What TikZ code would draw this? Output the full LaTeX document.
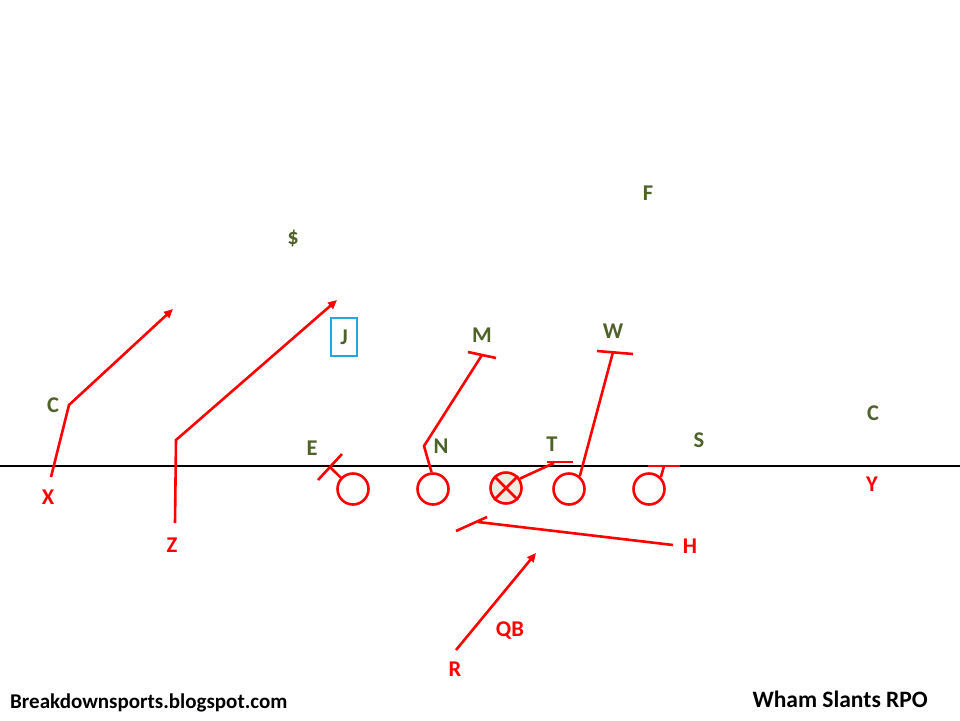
\documentclass[tikz,border=0pt]{standalone}
\usepackage{fontspec}
\setmainfont{Carlito}
\usetikzlibrary{arrows.meta}
\definecolor{olivegrn}{HTML}{4F6228}
\definecolor{rred}{HTML}{FF0000}
\definecolor{cyanbox}{HTML}{1FA7DE}
\definecolor{ctrfill}{HTML}{EEECE1}
\begin{document}
\begin{tikzpicture}[x=1pt,y=-1pt,
  deflbl/.style={text=olivegrn,font=\fontsize{22.5}{24}\selectfont\bfseries,inner sep=0pt},
  offlbl/.style={text=rred,font=\fontsize{22.5}{24}\selectfont\bfseries,inner sep=0pt},
  lineman/.style={circle,draw=rred,line width=2.6pt,minimum size=31pt,inner sep=0pt},
  route/.style={draw=rred,line width=2.6pt},
  arrowroute/.style={route,-{Triangle[length=9pt,width=8pt]}},
  footerL/.style={text=black,font=\fontsize{21}{23}\selectfont\bfseries,inner sep=0pt},
  footerR/.style={text=black,font=\fontsize{23.5}{25}\selectfont\bfseries,inner sep=0pt}]
\useasboundingbox (0,0) rectangle (960,720);
% line of scrimmage
\coordinate (losL) at (0,466);
\coordinate (losR) at (960,466);
\draw[line width=2.8pt] (losL) -- (losR);
% offensive line
\node[lineman] (o1) at (353,489) {};
\node[lineman] (o2) at (433,489) {};
\node[lineman,fill=ctrfill] (o3) at (506,488) {};
\node[lineman] (o4) at (569,489) {};
\node[lineman] (o5) at (649,489) {};
\draw[route] (o3.45) -- (o3.225) (o3.135) -- (o3.315);
% defensive labels
\node[deflbl] (dE) at (312,448) {E};
\node[deflbl] (dN) at (441,446) {N};
\node[deflbl] (dT) at (552,444) {T};
\node[deflbl] (dS) at (699,440) {S};
\node[deflbl] (dM) at (482,335) {M};
\node[deflbl] (dW) at (613,331) {W};
\node[deflbl] (dC1) at (53,405) {C};
\node[deflbl] (dC2) at (873,413) {C};
\node[deflbl] (dF) at (648,193) {F};
\node[deflbl] (dD) at (293,238) {\$};
\node[deflbl,draw=cyanbox,line width=1.5pt,minimum width=26pt,minimum height=38pt] (dJ) at (344,337) {J};
% offensive labels
\node[offlbl] (oX) at (48,497) {X};
\node[offlbl] (oZ) at (172,545) {Z};
\node[offlbl] (oY) at (872,484) {Y};
\node[offlbl] (oH) at (690,546) {H};
\node[offlbl] (oQB) at (510,631) {QB};
\node[offlbl] (oR) at (455,669) {R};
% footer
\node[footerL,anchor=west] (ft1) at (10,703) {Breakdownsports.blogspot.com};
\node[footerR,anchor=east] (ft2) at (928,699) {Wham Slants RPO};
% blocks
\coordinate (eS) at (330,467);
\coordinate (eB1) at (318,480);
\coordinate (eB2) at (342,454);
\draw[route] (o1.137) -- (eS);
\draw[route] (eB1) -- (eB2);
\coordinate (nK) at (424,446);
\coordinate (mS) at (482,355);
\coordinate (mB1) at (468,352);
\coordinate (mB2) at (496,358);
\draw[route] (o2.95) -- (nK) -- (mS);
\draw[route] (mB1) -- (mB2);
\coordinate (tS) at (554,463);
\coordinate (tB1) at (547,462);
\coordinate (tB2) at (573,462);
\draw[route] (o3.34) -- (tS);
\draw[route] (tB1) -- (tB2);
\coordinate (wS) at (613,352);
\coordinate (wB1) at (597,351);
\coordinate (wB2) at (633,354);
\draw[route] (o4.50) -- (wS);
\draw[route] (wB1) -- (wB2);
\coordinate (sS) at (664,466);
\coordinate (sB1) at (648,466);
\coordinate (sB2) at (680,466);
\draw[route] (o5.45) -- (sS);
\draw[route] (sB1) -- (sB2);
% H
\coordinate (hS) at (673,545);
\coordinate (hE) at (478,522);
\coordinate (hB1) at (456,531);
\coordinate (hB2) at (487,517);
\draw[route] (hS) -- (hE);
\draw[route] (hB1) -- (hB2);
% receivers
\coordinate (xS) at (51,477);
\coordinate (xK) at (69,405);
\coordinate (xT) at (173,309);
\draw[arrowroute] (xS) -- (xK) -- (xT);
\coordinate (zS) at (175,523);
\coordinate (zK) at (176,440);
\coordinate (zT) at (337,300);
\draw[arrowroute] (zS) -- (zK) -- (zT);
% QB
\coordinate (rS) at (456,650);
\coordinate (rT) at (536,553);
\draw[arrowroute] (rS) -- (rT);
\end{tikzpicture}
\end{document}
